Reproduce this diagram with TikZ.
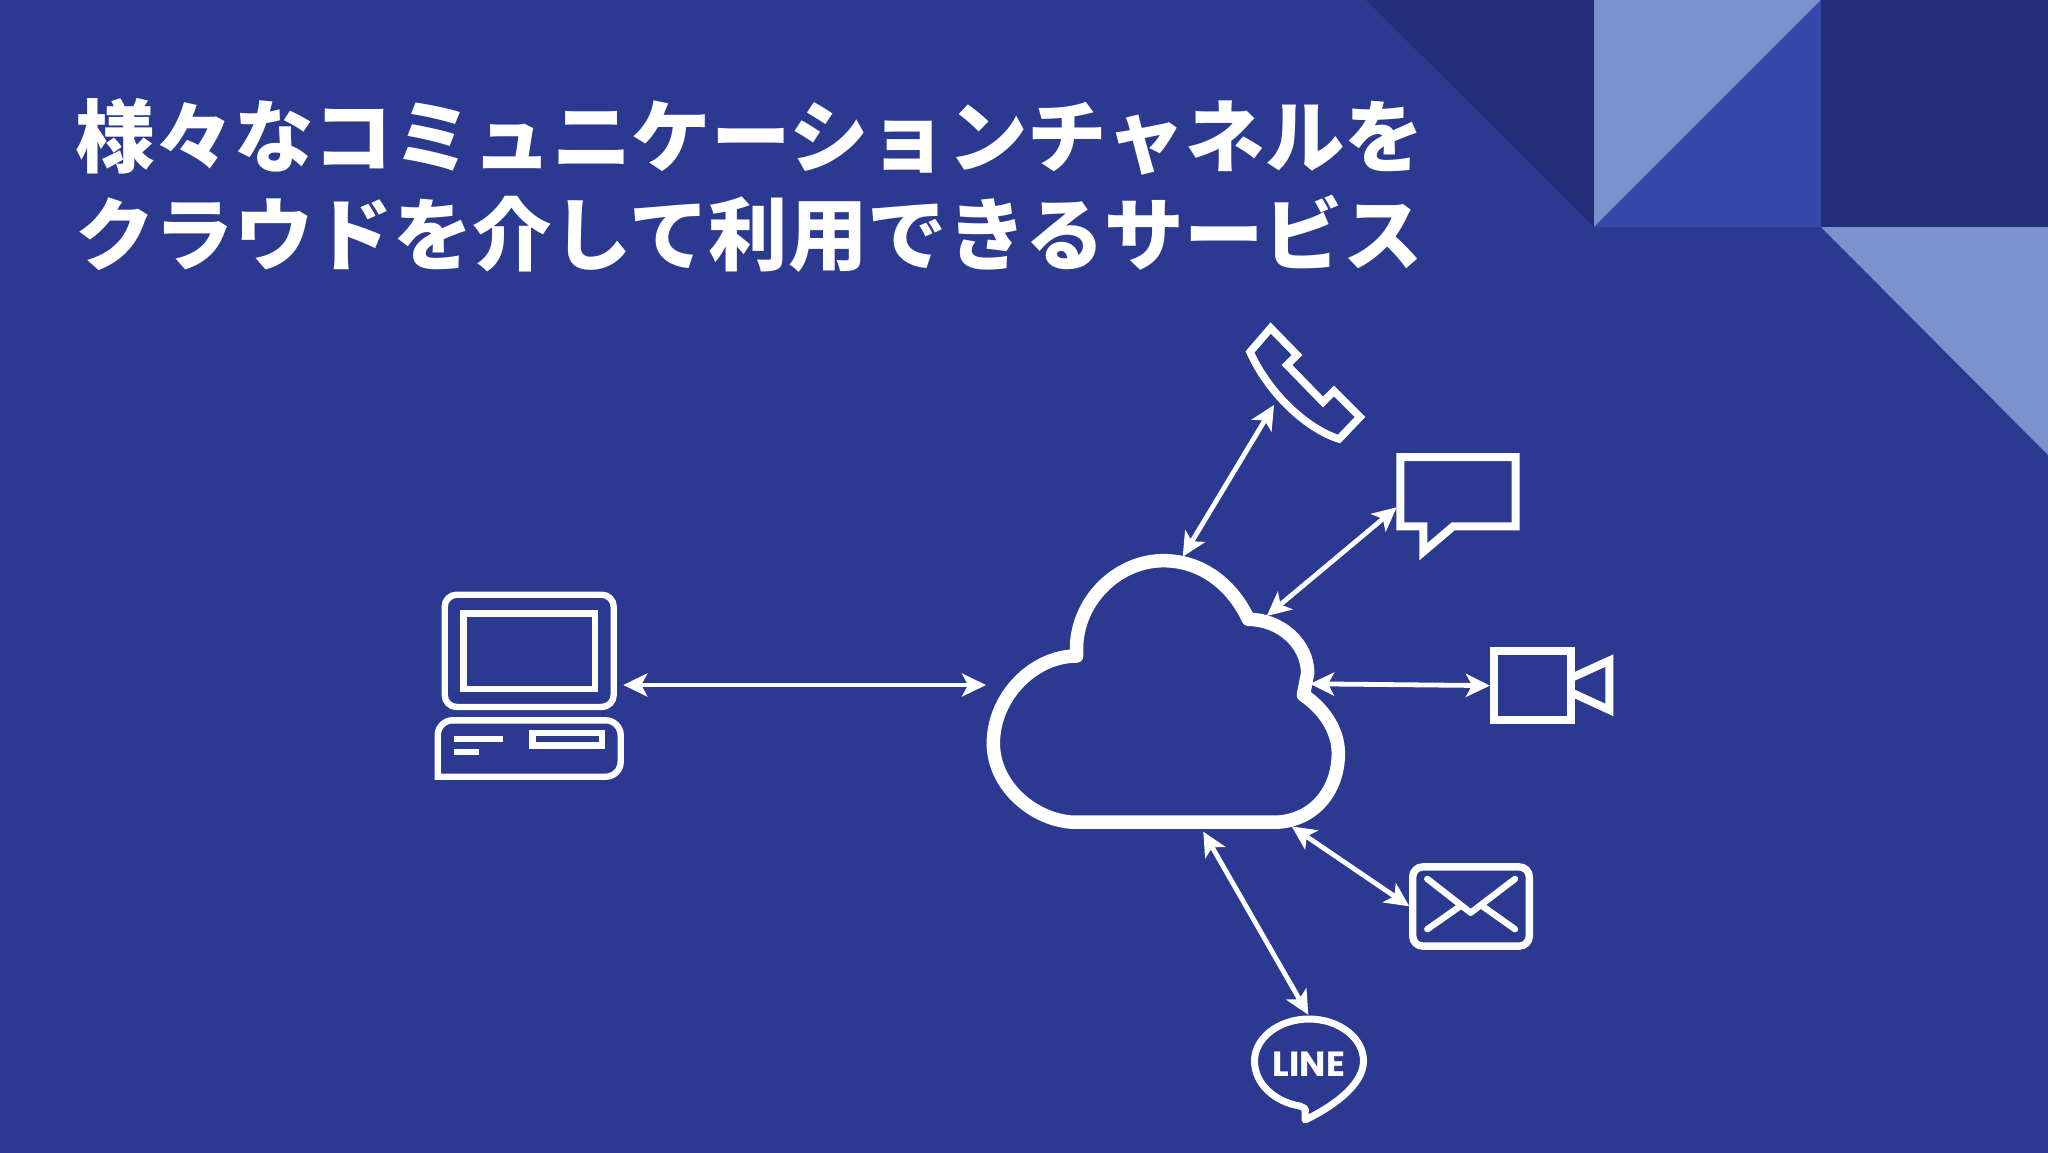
\documentclass[tikz,border=0pt]{standalone}
\usepackage{fontspec}
\usetikzlibrary{arrows.meta}
\newfontfamily\ttlfont{Noto Sans CJK JP}
\newfontfamily\linefont{Poppins}[BoldFont=* Bold]
\definecolor{bgblue}{HTML}{2C3990}
\definecolor{darkblue}{HTML}{232E78}
\definecolor{lightblue}{HTML}{7A91CB}
\definecolor{midblue}{HTML}{3649AA}
\tikzset{
  link/.style={white,line width=4.8pt,{Stealth[length=24pt,width=23pt,inset=6pt]}-{Stealth[length=24pt,width=23pt,inset=6pt]}},
  icon/.style={draw=white,line width=8pt,miter limit=10},
  iconthin/.style={draw=white,line width=6.4pt},
  ttl/.style={text=white,anchor=base west,inner sep=0pt,font=\ttlfont\bfseries\fontsize{79.5}{96}\selectfont},
}
\begin{document}
\begin{tikzpicture}[x=1pt,y=-1pt]
\useasboundingbox (0,0) rectangle (2048,1152);
\fill[bgblue] (-3,-3) rectangle (2051,1155);
% corner decoration
\fill[darkblue] (1366,0) -- (1594,0) -- (1594,227) -- cycle;
\fill[lightblue] (1594,0) -- (1821,0) -- (1594,227) -- cycle;
\fill[midblue] (1821,0) -- (1821,227) -- (1594,227) -- cycle;
\fill[darkblue] (1821,0) rectangle (2048,227);
\fill[lightblue] (1821,227) -- (2048,227) -- (2048,455) -- cycle;
% title
\node[ttl] (title1) at (75,166) {様々なコミュニケーションチャネルを};
\node[ttl] (title2) at (75,264) {クラウドを介して利用できるサービス};
% computer
\draw[iconthin,rounded corners=12pt] (444.7,594.7) rectangle (613.7,707);
\draw[iconthin] (463.3,613.3) rectangle (595,689);
\draw[iconthin,rounded corners=15pt] (437.7,776.7) -- (437.7,720.3) -- (620.7,720.3) -- (620.7,776.7) [sharp corners] -- cycle;
\draw[iconthin] (532.3,732.7) rectangle (601.7,745.3);
\draw[iconthin] (454.3,739) -- (503.3,739);
\draw[iconthin] (454.3,751.7) -- (478.7,751.7);
% cloud
\begin{scope}[shift={(960,540)},x=0.33333pt,y=-0.33333pt]
\draw[draw=white,line width=13.5pt,line join=round]
  (330,846) .. controls (215,835) and (100,735) .. (100,610)
  .. controls (100,470) and (220,348) .. (350,348)
  -- (350,310) .. controls (360,170) and (480,62) .. (610,62)
  .. controls (730,62) and (820,140) .. (865,238)
  .. controls (960,238) and (1043,310) .. (1043,400)
  -- (1030,465) .. controls (1090,505) and (1135,570) .. (1135,640)
  .. controls (1135,745) and (1070,835) .. (960,846) -- cycle;
\end{scope}
% phone
\draw[iconthin,line width=7.6pt,line join=miter]
  (1270.7,328) -- (1297,355) -- (1287,365) -- (1323,402) -- (1334,391) -- (1360,417) -- (1339,439)
  .. controls (1305,428) and (1268,392) .. (1250,352) -- cycle;
% chat
\draw[icon] (1400.3,457) -- (1515.7,457) -- (1515.7,526.3) -- (1453.3,526.3) -- (1423.3,551.7) -- (1423.3,526.3) -- (1400.3,526.3) -- cycle;
% camera
\draw[icon] (1493.7,650.7) rectangle (1571,720);
\draw[icon] (1571,678) -- (1609.3,660.6) -- (1609.3,709.9) -- (1571,692.3);
% mail
\draw[iconthin,line width=7.4pt,rounded corners=10pt] (1412.7,866.9) rectangle (1529.3,946.1);
\draw[iconthin,line cap=round,line join=round] (1427.3,878.9) -- (1470.7,912.7) -- (1515,878.9);
\draw[iconthin,line cap=round] (1427.3,929.2) -- (1460,906.3);
\draw[iconthin,line cap=round] (1515,929.2) -- (1482.7,906.3);
% line bubble
\draw[iconthin,line width=7pt,line join=round]
  (1305,1120) .. controls (1330,1108) and (1363.5,1086) .. (1363.5,1061)
  .. controls (1363.5,1038) and (1339,1019) .. (1309,1019)
  .. controls (1279,1019) and (1254.5,1038) .. (1254.5,1061)
  .. controls (1254.5,1084) and (1275,1102) .. (1300,1106)
  -- (1305.3,1108.8) -- cycle;
\node[text=white,inner sep=0pt,font=\linefont\bfseries\fontsize{35}{35}\selectfont] (linelabel) at (1309,1063.7) {LINE};
% connector ends
\coordinate (pcE) at (623.3,685);
\coordinate (cloudW) at (986,685);
\coordinate (phoneS) at (1274,405);
\coordinate (cloudN) at (1182.7,556.7);
\coordinate (chatW) at (1396.7,507.3);
\coordinate (cloudNE) at (1266.7,616);
\coordinate (camW) at (1490,685.6);
\coordinate (cloudE) at (1310,683.8);
\coordinate (mailW) at (1409.3,906.3);
\coordinate (cloudSE) at (1291.7,826.4);
\coordinate (lineN) at (1308.3,1014.8);
\coordinate (cloudS) at (1203.3,831.7);
\draw[link,line width=4pt] (pcE) -- (cloudW);
\draw[link] (phoneS) -- (cloudN);
\draw[link] (chatW) -- (cloudNE);
\draw[link] (camW) -- (cloudE);
\draw[link] (mailW) -- (cloudSE);
\draw[link] (lineN) -- (cloudS);
\end{tikzpicture}
\end{document}
